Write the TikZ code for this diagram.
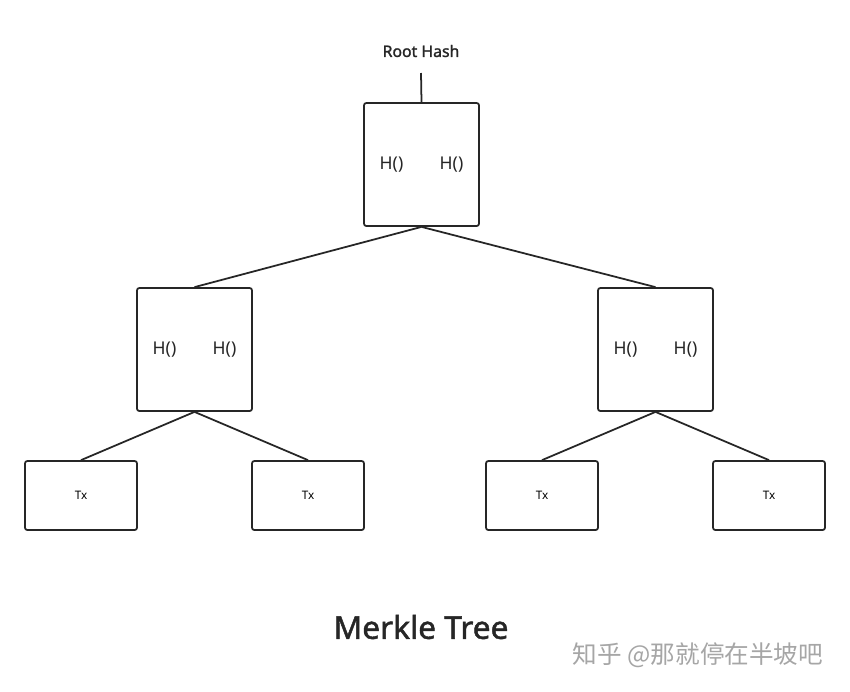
\documentclass[tikz,border=0pt]{standalone}
\usepackage{fontspec}
\setmainfont{Noto Sans}
\newfontfamily\cjk{Noto Sans CJK SC}
\newfontfamily\semib{Noto Sans}[FakeBold=1.5]
\begin{document}
\begin{tikzpicture}[x=0.03cm,y=-0.03cm,
  bx/.style={draw=black!85,line width=1.5pt,rounded corners=2pt,minimum width=115*0.03cm,minimum height=123*0.03cm,inner sep=0},
  lf/.style={draw=black!85,line width=1.5pt,rounded corners=2pt,minimum width=112*0.03cm,minimum height=69*0.03cm,inner sep=0,font=\fontsize{10}{11}\selectfont},
  ln/.style={draw=black!85,line width=1.5pt},
  hl/.style={font=\fontsize{15}{17}\selectfont,text=black!85}]
\fill[white] (0,0) rectangle (850,691);
\node[bx] (r) at (421.5,164.5) {};
\node[bx] (a) at (194.5,349.5) {};
\node[bx] (b) at (655.5,349.5) {};
\foreach \n in {r,a,b}{
  \node[hl] at ([xshift=-30*0.03cm]\n.center) {H()};
  \node[hl] at ([xshift=30*0.03cm]\n.center) {H()};}
\node[lf] (l1) at (81,495.5) {Tx};
\node[lf] (l2) at (308,495.5) {Tx};
\node[lf] (l3) at (542,495.5) {Tx};
\node[lf] (l4) at (769,495.5) {Tx};
\node[font=\semib\fontsize{13.5}{15}\selectfont,text=black!85] (rh) at (421,51) {Root Hash};
\coordinate (rt) at (421,73);
\draw[ln] (r.north) -- (rt);
\draw[ln] (r.south) -- (a.north);
\draw[ln] (r.south) -- (b.north);
\draw[ln] (a.south) -- (l1.north);
\draw[ln] (a.south) -- (l2.north);
\draw[ln] (b.south) -- (l3.north);
\draw[ln] (b.south) -- (l4.north);
\node[font=\semib\fontsize{27}{30}\selectfont,text=black!85] (t) at (421,627) {Merkle Tree};
\node[font=\cjk\fontsize{21}{24}\selectfont,text=black!35] (w) at (698,655) {知乎 @那就停在半坡吧};
\end{tikzpicture}
\end{document}
